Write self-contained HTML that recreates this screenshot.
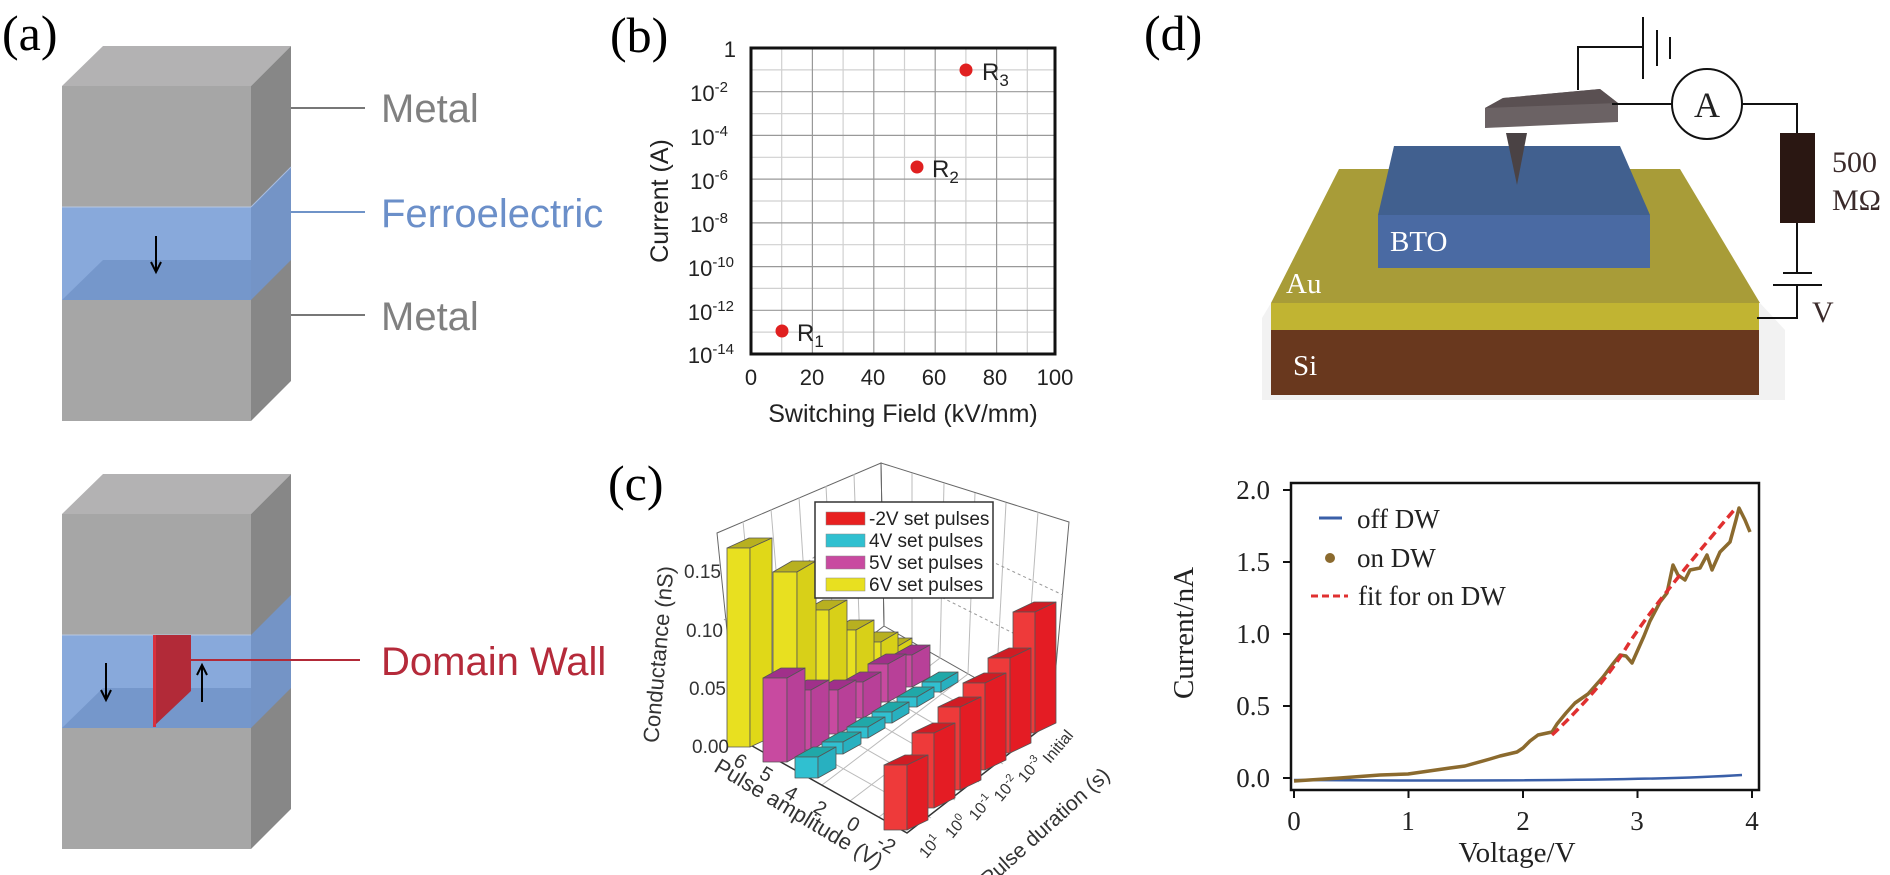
<!DOCTYPE html>
<html><head><meta charset="utf-8"><style>html,body{margin:0;padding:0;background:#fff}svg{display:block}</style></head><body>
<svg width="1890" height="875" viewBox="0 0 1890 875" xmlns="http://www.w3.org/2000/svg" font-family="Liberation Sans, sans-serif">
<!-- (a) -->
<text x="2" y="50" font-family="Liberation Serif, serif" font-size="50">(a)</text>
<g>
<polygon points="62,86 251,86 291,46 103,46" fill="#b3b2b3"/>
<rect x="62" y="86" width="189" height="335" fill="#a6a6a6"/>
<polygon points="251,86 291,46 291,381 251,421" fill="#878787"/>
<rect x="62" y="207" width="189" height="93" fill="#88a9db"/>
<polygon points="62,300 103,260 251,260 251,300" fill="#7597cb"/>
<polygon points="251,207 291,167 291,260 251,300" fill="#7494c6"/>
<line x1="62" y1="207" x2="251" y2="207" stroke="#b8c8e0" stroke-width="1"/>
<line x1="251" y1="207" x2="291" y2="167" stroke="#a9bde0" stroke-width="1"/>
</g>
<line x1="156" y1="236" x2="156" y2="271" stroke="#000" stroke-width="2"/>
<polyline points="151,262 156,272 161,262" fill="none" stroke="#000" stroke-width="2"/>
<line x1="291" y1="108" x2="365" y2="108" stroke="#777" stroke-width="2"/>
<line x1="291" y1="212" x2="365" y2="212" stroke="#6f93c8" stroke-width="2"/>
<line x1="291" y1="315" x2="365" y2="315" stroke="#777" stroke-width="2"/>
<text x="381" y="122" font-size="40" fill="#808080">Metal</text>
<text x="381" y="227" font-size="40" fill="#6b8fc9">Ferroelectric</text>
<text x="381" y="330" font-size="40" fill="#808080">Metal</text>
<g transform="translate(0,428)">
<polygon points="62,86 251,86 291,46 103,46" fill="#b3b2b3"/>
<rect x="62" y="86" width="189" height="335" fill="#a6a6a6"/>
<polygon points="251,86 291,46 291,381 251,421" fill="#878787"/>
<rect x="62" y="207" width="189" height="93" fill="#88a9db"/>
<polygon points="62,300 103,260 251,260 251,300" fill="#7597cb"/>
<polygon points="251,207 291,167 291,260 251,300" fill="#7494c6"/>
<line x1="62" y1="207" x2="251" y2="207" stroke="#b8c8e0" stroke-width="1"/>
</g>
<polygon points="153,635 191,635 191,691 153,727" fill="#b22a38"/>
<rect x="153" y="635" width="3" height="92" fill="#d8303e"/>
<line x1="106" y1="663" x2="106" y2="699" stroke="#000" stroke-width="2"/>
<polyline points="101,690 106,700 111,690" fill="none" stroke="#000" stroke-width="2"/>
<line x1="202" y1="666" x2="202" y2="702" stroke="#000" stroke-width="2"/>
<polyline points="197,675 202,665 207,675" fill="none" stroke="#000" stroke-width="2"/>
<line x1="191" y1="660" x2="360" y2="660" stroke="#b22a38" stroke-width="2"/>
<text x="381" y="675" font-size="40" fill="#b52a3a">Domain Wall</text>

<!-- (b) -->
<text x="610" y="52" font-family="Liberation Serif, serif" font-size="50">(b)</text>
<g stroke-width="1.2">
<g stroke="#d0d0d0">
<line x1="781.7" y1="48" x2="781.7" y2="354"/><line x1="843.1" y1="48" x2="843.1" y2="354"/><line x1="904.5" y1="48" x2="904.5" y2="354"/><line x1="965.9" y1="48" x2="965.9" y2="354"/><line x1="1027.3" y1="48" x2="1027.3" y2="354"/>
<line x1="751" y1="69.9" x2="1055" y2="69.9"/><line x1="751" y1="113.6" x2="1055" y2="113.6"/><line x1="751" y1="157.3" x2="1055" y2="157.3"/><line x1="751" y1="201" x2="1055" y2="201"/><line x1="751" y1="244.7" x2="1055" y2="244.7"/><line x1="751" y1="288.4" x2="1055" y2="288.4"/><line x1="751" y1="332.1" x2="1055" y2="332.1"/>
</g>
<g stroke="#999">
<line x1="812.4" y1="48" x2="812.4" y2="354"/><line x1="873.8" y1="48" x2="873.8" y2="354"/><line x1="935.2" y1="48" x2="935.2" y2="354"/><line x1="996.6" y1="48" x2="996.6" y2="354"/>
<line x1="751" y1="91.7" x2="1055" y2="91.7"/><line x1="751" y1="135.4" x2="1055" y2="135.4"/><line x1="751" y1="179.1" x2="1055" y2="179.1"/><line x1="751" y1="222.9" x2="1055" y2="222.9"/><line x1="751" y1="266.6" x2="1055" y2="266.6"/><line x1="751" y1="310.3" x2="1055" y2="310.3"/>
</g>
</g>
<rect x="751" y="48" width="304" height="306" fill="none" stroke="#111" stroke-width="3"/>
<g font-size="22" fill="#222" text-anchor="end">
<text x="736" y="57">1</text>
<text x="728" y="101">10<tspan dy="-9" font-size="15">-2</tspan></text>
<text x="728" y="145">10<tspan dy="-9" font-size="15">-4</tspan></text>
<text x="728" y="189">10<tspan dy="-9" font-size="15">-6</tspan></text>
<text x="728" y="232">10<tspan dy="-9" font-size="15">-8</tspan></text>
<text x="734" y="276">10<tspan dy="-9" font-size="15">-10</tspan></text>
<text x="734" y="320">10<tspan dy="-9" font-size="15">-12</tspan></text>
<text x="734" y="363">10<tspan dy="-9" font-size="15">-14</tspan></text>
</g>
<g font-size="22" fill="#222" text-anchor="middle">
<text x="751" y="385">0</text><text x="812" y="385">20</text><text x="873" y="385">40</text><text x="934" y="385">60</text><text x="995" y="385">80</text><text x="1055" y="385">100</text>
</g>
<text transform="translate(668,201) rotate(-90)" font-size="25" fill="#222" text-anchor="middle">Current (A)</text>
<text x="903" y="422" font-size="25" fill="#222" text-anchor="middle">Switching Field (kV/mm)</text>
<circle cx="782" cy="331" r="6.5" fill="#e02020"/>
<circle cx="917" cy="167" r="6.5" fill="#e02020"/>
<circle cx="966" cy="70" r="6.5" fill="#e02020"/>
<g font-size="24" fill="#222">
<text x="797" y="341">R<tspan dy="6" font-size="17">1</tspan></text>
<text x="932" y="177">R<tspan dy="6" font-size="17">2</tspan></text>
<text x="982" y="80">R<tspan dy="6" font-size="17">3</tspan></text>
</g>

<!-- (c) -->
<text x="608" y="500" font-family="Liberation Serif, serif" font-size="50">(c)</text>
<g stroke="#bbb" stroke-width="1" fill="none">
<polygon points="738,738 884,626 881,463 717,533" stroke="#666"/>
<polygon points="884,626 1051,721 1069,522 881,463" stroke="#666"/>
<line x1="762" y1="723" x2="743" y2="521"/><line x1="787" y1="704" x2="771" y2="509"/><line x1="811" y1="685" x2="799" y2="497"/><line x1="835" y1="666" x2="826" y2="486"/><line x1="860" y1="646" x2="854" y2="474"/>
<line x1="912" y1="642" x2="912" y2="473"/><line x1="940" y1="658" x2="944" y2="483"/><line x1="968" y1="674" x2="975" y2="493"/><line x1="996" y1="690" x2="1006" y2="503"/><line x1="1024" y1="706" x2="1038" y2="512"/>
<g stroke-dasharray="3,3" stroke="#999">
<line x1="731" y1="680" x2="883" y2="568"/><line x1="724" y1="620" x2="882" y2="510"/>
<line x1="883" y1="568" x2="1057" y2="655"/><line x1="882" y1="510" x2="1063" y2="595"/>
</g>
<line x1="766" y1="754" x2="912" y2="642"/><line x1="794" y1="770" x2="940" y2="658"/><line x1="822" y1="785" x2="968" y2="674"/><line x1="850" y1="801" x2="996" y2="690"/><line x1="879" y1="817" x2="1024" y2="706"/>
<line x1="762" y1="723" x2="931" y2="818"/><line x1="787" y1="704" x2="955" y2="800"/><line x1="811" y1="685" x2="979" y2="782"/><line x1="835" y1="666" x2="1003" y2="764"/><line x1="860" y1="646" x2="1027" y2="743"/>
<polyline points="738,738 907,833 1051,721" stroke="#333" stroke-width="1.5"/>
</g>
<g stroke="#555" stroke-width="0.8" stroke-linejoin="round">
<g fill="#e8e020">
<polygon points="872,648 895,648 912,638 889,638" fill="#b8b020"/><rect x="872" y="648" width="23" height="40"/><polygon points="895,648 912,638 912,678 895,688" fill="#d8d018"/>
<polygon points="858,642 881,642 898,632 875,632" fill="#b8b020"/><rect x="858" y="642" width="23" height="55"/><polygon points="881,642 898,632 898,687 881,697" fill="#d8d018"/>
<polygon points="832,630 856,630 874,620 850,620" fill="#b8b020"/><rect x="832" y="630" width="24" height="80"/><polygon points="856,630 874,620 874,700 856,710" fill="#d8d018"/>
<polygon points="805,610 829,610 847,600 823,600" fill="#b8b020"/><rect x="805" y="610" width="24" height="114"/><polygon points="829,610 847,600 847,714 829,724" fill="#d8d018"/>
<polygon points="773,572 797,572 816,561 792,561" fill="#b8b020"/><rect x="773" y="572" width="24" height="165"/><polygon points="797,572 816,561 816,726 797,737" fill="#d8d018"/>
<polygon points="727,548 750,548 772,538 749,538" fill="#b8b020"/><rect x="727" y="548" width="23" height="199"/><polygon points="750,548 772,538 772,737 750,747" fill="#e0d818"/>
</g>
<g fill="#c84aa0">
<polygon points="893,655 912,655 930,645 911,645" fill="#a0308a"/><rect x="893" y="655" width="19" height="32"/><polygon points="912,655 930,645 930,677 912,687" fill="#b84098"/>
<polygon points="868,664 888,664 906,654 886,654" fill="#a0308a"/><rect x="868" y="664" width="20" height="38"/><polygon points="888,664 906,654 906,692 888,702" fill="#b84098"/>
<polygon points="842,682 863,682 881,672 860,672" fill="#a0308a"/><rect x="842" y="682" width="21" height="36"/><polygon points="863,682 881,672 881,708 863,718" fill="#b84098"/>
<polygon points="816,690 838,690 856,680 834,680" fill="#a0308a"/><rect x="816" y="690" width="22" height="44"/><polygon points="838,690 856,680 856,724 838,734" fill="#b84098"/>
<polygon points="789,690 811,690 829,680 807,680" fill="#a0308a"/><rect x="789" y="690" width="22" height="60"/><polygon points="811,690 829,680 829,740 811,750" fill="#b84098"/>
<polygon points="763,678 787,678 805,668 781,668" fill="#a0308a"/><rect x="763" y="678" width="24" height="84"/><polygon points="787,678 805,668 805,752 787,762" fill="#b84098"/>
</g>
<g fill="#30c0d0">
<polygon points="922,682 941,682 958,672 939,672" fill="#20a8a8"/><rect x="922" y="682" width="19" height="10"/><polygon points="941,682 958,672 958,682 941,692" fill="#28b0c0"/>
<polygon points="897,697 917,697 934,687 914,687" fill="#20a8a8"/><rect x="897" y="697" width="20" height="10"/><polygon points="917,697 934,687 934,697 917,707" fill="#28b0c0"/>
<polygon points="872,712 892,712 909,702 889,702" fill="#20a8a8"/><rect x="872" y="712" width="20" height="11"/><polygon points="892,712 909,702 909,713 892,723" fill="#28b0c0"/>
<polygon points="847,727 868,727 885,717 864,717" fill="#20a8a8"/><rect x="847" y="727" width="21" height="11"/><polygon points="868,727 885,717 885,728 868,738" fill="#28b0c0"/>
<polygon points="822,742 843,742 861,732 840,732" fill="#20a8a8"/><rect x="822" y="742" width="21" height="12"/><polygon points="843,742 861,732 861,744 843,754" fill="#28b0c0"/>
<polygon points="795,757 818,757 836,747 813,747" fill="#20a8a8"/><rect x="795" y="757" width="23" height="21"/><polygon points="818,757 836,747 836,768 818,778" fill="#28b0c0"/>
</g>
<g fill="#ee3a3a">
<polygon points="1013,612 1035,612 1056,602 1034,602" fill="#d01c24"/><rect x="1013" y="612" width="22" height="121"/><polygon points="1035,612 1056,602 1056,723 1035,733" fill="#e41c24"/>
<polygon points="988,658 1010,658 1031,648 1009,648" fill="#d01c24"/><rect x="988" y="658" width="22" height="95"/><polygon points="1010,658 1031,648 1031,743 1010,753" fill="#e41c24"/>
<polygon points="963,683 985,683 1006,673 984,673" fill="#d01c24"/><rect x="963" y="683" width="22" height="87"/><polygon points="985,683 1006,673 1006,760 985,770" fill="#e41c24"/>
<polygon points="938,707 960,707 981,697 959,697" fill="#d01c24"/><rect x="938" y="707" width="22" height="83"/><polygon points="960,707 981,697 981,780 960,790" fill="#e41c24"/>
<polygon points="912,733 934,733 955,723 933,723" fill="#d01c24"/><rect x="912" y="733" width="22" height="75"/><polygon points="934,733 955,723 955,798 934,808" fill="#e41c24"/>
<polygon points="884,765 907,765 928,755 905,755" fill="#d01c24"/><rect x="884" y="765" width="23" height="65"/><polygon points="907,765 928,755 928,820 907,830" fill="#e41c24"/>
</g>
</g>
<rect x="815" y="502" width="178" height="96" fill="#fff" stroke="#333" stroke-width="1.5"/>
<rect x="826" y="512" width="39" height="13" fill="#e82020" stroke="#888" stroke-width="0.5"/>
<rect x="826" y="534" width="39" height="13" fill="#30c0d0" stroke="#888" stroke-width="0.5"/>
<rect x="826" y="556" width="39" height="13" fill="#c84aa0" stroke="#888" stroke-width="0.5"/>
<rect x="826" y="578" width="39" height="13" fill="#e8e020" stroke="#888" stroke-width="0.5"/>
<g font-size="19" fill="#222">
<text x="869" y="525">-2V set pulses</text>
<text x="869" y="547">4V set pulses</text>
<text x="869" y="569">5V set pulses</text>
<text x="869" y="591">6V set pulses</text>
</g>
<g font-size="19" fill="#333" text-anchor="end">
<text x="729" y="753">0.00</text><text x="726" y="695">0.05</text><text x="723" y="637">0.10</text><text x="721" y="578">0.15</text>
</g>
<text transform="translate(666,655) rotate(-85)" font-size="22" fill="#333" text-anchor="middle">Conductance (nS)</text>
<g font-size="20" fill="#333" text-anchor="middle">
<text transform="translate(737,767) rotate(30)">6</text><text transform="translate(763,780) rotate(30)">5</text><text transform="translate(788,799) rotate(30)">4</text><text transform="translate(817,814) rotate(30)">2</text><text transform="translate(850,830) rotate(30)">0</text><text transform="translate(883,850) rotate(30)">-2</text>
</g>
<text transform="translate(795,820) rotate(31)" font-size="22" fill="#333" text-anchor="middle">Pulse amplitude (V)</text>
<g font-size="16" fill="#333" text-anchor="middle">
<text transform="translate(934,850) rotate(-50)">10<tspan dy="-6" font-size="11">1</tspan></text>
<text transform="translate(960,830) rotate(-50)">10<tspan dy="-6" font-size="11">0</tspan></text>
<text transform="translate(985,811) rotate(-50)">10<tspan dy="-6" font-size="11">-1</tspan></text>
<text transform="translate(1010,792) rotate(-50)">10<tspan dy="-6" font-size="11">-2</tspan></text>
<text transform="translate(1034,773) rotate(-50)">10<tspan dy="-6" font-size="11">-3</tspan></text>
<text transform="translate(1062,750) rotate(-50)">Initial</text>
</g>
<text transform="translate(1050,832) rotate(-42)" font-size="21" fill="#333" text-anchor="middle">Pulse duration (s)</text>

<!-- (d) top -->
<text x="1144" y="50" font-family="Liberation Serif, serif" font-size="50">(d)</text>
<polygon points="1262,318 1271,303 1760,303 1785,330 1785,400 1262,400" fill="#f2f2f2"/>
<polygon points="1271,303 1339,169 1680,169 1760,303" fill="#a89c38"/>
<rect x="1271" y="303" width="488" height="27" fill="#c1b432"/>
<rect x="1271" y="330" width="488" height="65" fill="#69381e"/>
<polygon points="1378,215 1394,146 1620,146 1650,215" fill="#41608f"/>
<rect x="1378" y="215" width="272" height="53" fill="#4a6aa3"/>
<text x="1390" y="251" font-family="Liberation Serif, serif" font-size="29" fill="#fff">BTO</text>
<text x="1286" y="293" font-family="Liberation Serif, serif" font-size="29" fill="#fff">Au</text>
<text x="1293" y="375" font-family="Liberation Serif, serif" font-size="29" fill="#fff">Si</text>
<polygon points="1485,108 1503,98 1600,89 1618,103 1618,122 1485,128" fill="#6b6264"/>
<polygon points="1485,108 1503,98 1600,89 1618,103" fill="#5a5052"/>
<polygon points="1506,133 1527,133 1517,185" fill="#4a4244"/>
<g stroke="#111" stroke-width="2" fill="none">
<polyline points="1578,90 1578,47 1643,47"/>
<line x1="1643" y1="17" x2="1643" y2="79"/><line x1="1657" y1="30" x2="1657" y2="66"/><line x1="1670" y1="37" x2="1670" y2="59"/>
<line x1="1612" y1="104" x2="1672" y2="104"/>
<circle cx="1707" cy="104" r="35"/>
<polyline points="1742,104 1797,104 1797,133"/>
<polyline points="1797,223 1797,273"/>
<line x1="1783" y1="273" x2="1812" y2="273"/><line x1="1773" y1="285" x2="1822" y2="285"/>
<polyline points="1797,285 1797,318 1757,318"/>
</g>
<rect x="1780" y="133" width="35" height="90" fill="#2a1712"/>
<text x="1707" y="117" font-family="Liberation Serif, serif" font-size="36" fill="#222" text-anchor="middle">A</text>
<g font-family="Liberation Serif, serif" font-size="30" fill="#3a2a2a">
<text x="1832" y="172">500</text><text x="1832" y="210">MΩ</text><text x="1812" y="322">V</text>
</g>

<!-- (d) bottom plot -->
<rect x="1291" y="483" width="468" height="307" fill="none" stroke="#111" stroke-width="2.5"/>
<g stroke="#111" stroke-width="2">
<line x1="1294" y1="790" x2="1294" y2="798"/><line x1="1408.5" y1="790" x2="1408.5" y2="798"/><line x1="1523" y1="790" x2="1523" y2="798"/><line x1="1637.5" y1="790" x2="1637.5" y2="798"/><line x1="1752" y1="790" x2="1752" y2="798"/>
<line x1="1283" y1="778" x2="1291" y2="778"/><line x1="1283" y1="706" x2="1291" y2="706"/><line x1="1283" y1="634" x2="1291" y2="634"/><line x1="1283" y1="562" x2="1291" y2="562"/><line x1="1283" y1="490" x2="1291" y2="490"/>
</g>
<g font-family="Liberation Serif, serif" font-size="27" fill="#222">
<g text-anchor="middle">
<text x="1294" y="830">0</text><text x="1408" y="830">1</text><text x="1523" y="830">2</text><text x="1637" y="830">3</text><text x="1752" y="830">4</text>
</g>
<g text-anchor="end">
<text x="1270" y="787">0.0</text><text x="1270" y="715">0.5</text><text x="1270" y="643">1.0</text><text x="1270" y="571">1.5</text><text x="1270" y="499">2.0</text>
</g>
<text x="1517" y="862" text-anchor="middle" font-size="29">Voltage/V</text>
<text transform="translate(1193,633) rotate(-90)" text-anchor="middle" font-size="29">Current/nA</text>
<text x="1357" y="528" font-size="27">off DW</text>
<text x="1357" y="567" font-size="27">on DW</text>
<text x="1358" y="605" font-size="27">fit for on DW</text>
</g>
<line x1="1319" y1="518" x2="1342" y2="518" stroke="#3a5fa8" stroke-width="3"/>
<circle cx="1330" cy="558" r="5" fill="#8b6a2e"/>
<line x1="1311" y1="596" x2="1348" y2="596" stroke="#e03030" stroke-width="3" stroke-dasharray="7,4"/>
<path d="M1294,780 C1450,781 1650,781 1742,775" fill="none" stroke="#3a5fa8" stroke-width="2.5"/>
<polyline fill="none" stroke="#8b6a2e" stroke-width="3.5" stroke-linejoin="round" points="1294,781 1340,778 1380,775 1408,774 1450,768 1465,766 1490,759 1500,756 1517,752 1523,748 1530,741 1538,735 1552,732 1557,724 1566,713 1575,703 1588,694 1603,677 1612,665 1620,655 1626,656 1632,663 1644,636 1650,621 1660,602 1667,593 1673,565 1678,575 1685,580 1690,570 1700,568 1707,555 1712,570 1720,552 1730,542 1736,520 1739,508 1745,520 1750,532"/>
<path d="M1552,735 Q1600,690 1626,648 T1735,509" fill="none" stroke="#e03030" stroke-width="3.5" stroke-dasharray="9,5"/>
</svg>
</body></html>
